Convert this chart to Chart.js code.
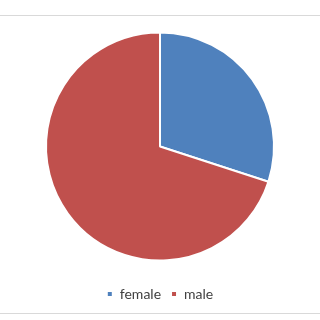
<!DOCTYPE html>
<html>
<head>
<meta charset="utf-8">
<script src="https://cdn.jsdelivr.net/npm/chart.js@4/dist/chart.umd.min.js"></script>
<style>
  html, body { margin: 0; padding: 0; background: #ffffff; }
  #wrap { position: relative; width: 320px; height: 320px; }
  #topline { position: absolute; left: 0; top: 15px; width: 320px; height: 1px; background: #d9d9d9; }
  #botline { position: absolute; left: 0; top: 313px; width: 320px; height: 1px; background: #d9d9d9; }
  canvas { position: absolute; left: 0; top: 0; }
</style>
</head>
<body>
<div id="wrap">
  <div id="topline"></div>
  <div id="botline"></div>
  <canvas id="c" width="320" height="320"></canvas>
</div>
<script>
const categories = ["female", "male"];
const values = [30, 70];
const colors = ["#4F81BD", "#C0504D"];

new Chart(document.getElementById("c"), {
  type: "pie",
  data: {
    labels: categories,
    datasets: [{
      data: values,
      backgroundColor: colors,
      borderColor: "#ffffff",
      borderWidth: 2,
      radius: 114
    }]
  },
  options: {
    responsive: false,
    animation: false,
    layout: { padding: { top: 16, bottom: 9, left: 0, right: 0 } },
    plugins: {
      tooltip: { enabled: false },
      legend: {
        position: "bottom",
        labels: {
          boxWidth: 6,
          boxHeight: 6,
          padding: 10,
          color: "#404040",
          font: { family: "Lato, 'Open Sans', sans-serif", size: 14 }
        }
      }
    }
  }
});
</script>
</body>
</html>
